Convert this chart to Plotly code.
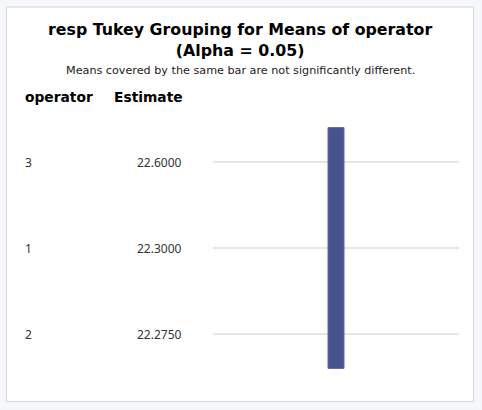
import plotly.graph_objects as go

# ---- data ----
operators = ["3", "1", "2"]
estimates = [22.6000, 22.3000, 22.2750]
estimate_labels = ["22.6000", "22.3000", "22.2750"]
# groups: list of (first row index, last row index) covered by same bar
group_start = [0]
group_end = [2]

title_line1 = "resp Tukey Grouping for Means of operator"
title_line2 = "(Alpha = 0.05)"
subtitle = "Means covered by the same bar are not significantly different."
col_headers = ["operator", "Estimate"]

# ---- layout geometry ----
W, H = 482, 410
L, R, T, B = 213, 23, 120, 30
PW, PH = W - L - R, H - T - B

def px2x(px):
    return (px - L) / PW

def px2y(py):
    return (H - B - py) / PH

BAR_COLOR = "#45548f"
GRID = "#e6e6e8"
BODY = "Noto Sans"
BOLD = "DejaVu Sans"

rows = list(range(len(operators)))

fig = go.Figure()
fig.add_trace(go.Bar(
    x=[0.5 for _ in group_start],
    y=[(e - s) + 0.8 for s, e in zip(group_start, group_end)],
    base=[s - 0.4 for s in group_start],
    width=0.065,
    marker=dict(color=BAR_COLOR, line=dict(color="#5b6aa3", width=1)),
    hoverinfo="skip",
))

ann = []
ann.append(dict(text="<b>" + title_line1 + "<br>" + title_line2 + "</b>", x=px2x(240), y=px2y(39.5),
                xref="paper", yref="paper",
                showarrow=False, xanchor="center", yanchor="middle", align="center",
                font=dict(family=BOLD, size=15.8, color="#000")))
ann.append(dict(text=subtitle, x=px2x(240), y=px2y(70.5), xref="paper", yref="paper",
                showarrow=False, xanchor="center", yanchor="middle",
                font=dict(family=BOLD, size=11.2, color="#222")))
ann.append(dict(text="<b>" + col_headers[0] + "</b>", x=px2x(23), y=px2y(97), xref="paper", yref="paper",
                showarrow=False, xanchor="left", yanchor="middle",
                font=dict(family=BOLD, size=13.8, color="#000")))
ann.append(dict(text="<b>" + col_headers[1] + "</b>", x=px2x(112), y=px2y(97), xref="paper", yref="paper",
                showarrow=False, xanchor="left", yanchor="middle",
                font=dict(family=BOLD, size=13.8, color="#000")))
for r, op, lab in zip(rows, operators, estimate_labels):
    ann.append(dict(text=op, x=px2x(23), y=r, xref="paper", yref="y", showarrow=False,
                    xanchor="left", yanchor="middle", font=dict(family=BODY, size=12, color="#333")))
    ann.append(dict(text=lab, x=px2x(184), y=r, xref="paper", yref="y", showarrow=False,
                    xanchor="right", yanchor="middle", font=dict(family=BODY, size=12, color="#333")))

shapes = [dict(type="rect", xref="paper", yref="paper", layer="below",
               x0=px2x(6.5), x1=px2x(473.5), y0=px2y(401.5), y1=px2y(7),
               fillcolor="white", line=dict(color="#d3d5dc", width=1))]

fig.update_layout(
    width=W, height=H,
    margin=dict(l=L, r=R, t=T, b=B),
    paper_bgcolor="#f6f7fc",
    plot_bgcolor="rgba(0,0,0,0)",
    showlegend=False,
    annotations=ann,
    shapes=shapes,
    xaxis=dict(range=[0, 1], showgrid=False, zeroline=False, showticklabels=False, ticks="", fixedrange=True),
    yaxis=dict(range=[(380 - 162) / 86, -(162 - 120) / 86], tickvals=rows, showticklabels=False,
               showgrid=True, gridcolor=GRID, gridwidth=1.5, zeroline=False, ticks="", fixedrange=True),
)

fig.write_html("out.html", config={"displayModeBar": False},
               post_script="document.body.style.margin='0px';document.body.style.background='#f6f7fc';")
